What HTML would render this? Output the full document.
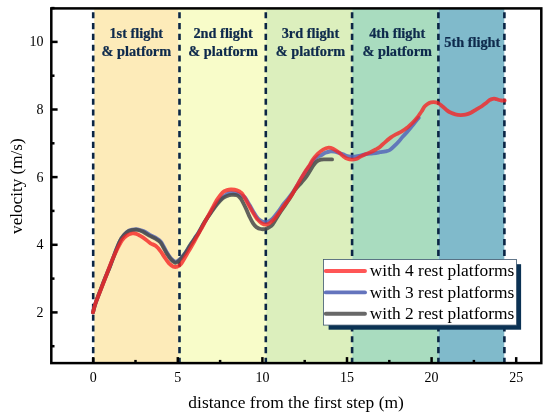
<!DOCTYPE html>
<html><head><meta charset="utf-8"><title>velocity vs distance</title>
<style>
html,body{margin:0;padding:0;background:#fff;}
svg{display:block;}
text{font-family:"Liberation Serif","Times New Roman",serif;fill:#000;}
.tk{font-size:14px;}
.ax{font-size:17.3px;}
.lg{font-size:17.4px;}
.hd{font-size:15px;font-weight:bold;fill:#0e2a4c;stroke:#0e2a4c;stroke-width:0.25px;text-anchor:middle;}
</style></head><body>
<svg width="550" height="416" viewBox="0 0 550 416">
<rect width="550" height="416" fill="#fff"/>
<rect x="94.2" y="8.4" width="84.4" height="354.70000000000005" fill="#FDEBB9"/>
<rect x="178.6" y="8.4" width="87.6" height="354.70000000000005" fill="#F8FCC9"/>
<rect x="266.2" y="8.4" width="86.1" height="354.70000000000005" fill="#DCEFBD"/>
<rect x="352.3" y="8.4" width="86.2" height="354.70000000000005" fill="#A9DCBF"/>
<rect x="438.5" y="8.4" width="65.8" height="354.70000000000005" fill="#80BACB"/>
<line x1="93.2" y1="12.25" x2="93.2" y2="363.1" stroke="#0b2545" stroke-width="2.6" stroke-dasharray="6.1 4.7"/>
<line x1="179.5" y1="12.25" x2="179.5" y2="363.1" stroke="#0b2545" stroke-width="2.6" stroke-dasharray="6.1 4.7"/>
<line x1="265.8" y1="12.25" x2="265.8" y2="363.1" stroke="#0b2545" stroke-width="2.6" stroke-dasharray="6.1 4.7"/>
<line x1="352.1" y1="12.25" x2="352.1" y2="363.1" stroke="#0b2545" stroke-width="2.6" stroke-dasharray="6.1 4.7"/>
<line x1="438.4" y1="12.25" x2="438.4" y2="363.1" stroke="#0b2545" stroke-width="2.6" stroke-dasharray="6.1 4.7"/>
<line x1="504.4" y1="12.25" x2="504.4" y2="363.1" stroke="#0b2545" stroke-width="2.6" stroke-dasharray="6.1 4.7"/>
<text class="hd" transform="translate(136.3,38.3) scale(0.955,1)">1st flight</text>
<text class="hd" transform="translate(136.3,56.1) scale(0.955,1)">&amp; platform</text>
<text class="hd" transform="translate(223.1,38.3) scale(0.955,1)">2nd flight</text>
<text class="hd" transform="translate(223.1,56.1) scale(0.955,1)">&amp; platform</text>
<text class="hd" transform="translate(310.5,38.3) scale(0.955,1)">3rd flight</text>
<text class="hd" transform="translate(310.5,56.1) scale(0.955,1)">&amp; platform</text>
<text class="hd" transform="translate(397.2,38.3) scale(0.955,1)">4th flight</text>
<text class="hd" transform="translate(397.2,56.1) scale(0.955,1)">&amp; platform</text>
<text class="hd" transform="translate(472.3,47.2) scale(0.955,1)">5th flight</text>
<path d="M93.0,312.4C93.5,310.7 94.1,307.3 95.9,302.2C97.7,297.1 101.4,287.6 103.7,281.6C106.0,275.6 108.4,270.3 110.0,266.2C111.6,262.1 112.2,260.3 113.4,257.1C114.6,253.9 116.0,250.1 117.3,247.0C118.6,243.9 119.8,240.8 121.4,238.3C123.0,235.8 125.1,233.3 126.9,231.9C128.7,230.5 130.6,230.1 132.4,229.7C134.2,229.3 136.0,229.1 137.8,229.3C139.6,229.5 141.2,230.1 143.4,231.1C145.6,232.1 148.8,234.3 150.9,235.5C153.1,236.7 154.7,237.2 156.3,238.2C157.9,239.2 159.4,240.1 160.7,241.5C162.0,242.9 162.8,245.0 163.9,246.9C165.0,248.8 165.9,250.9 167.2,252.9C168.4,254.9 170.1,257.4 171.4,258.9C172.7,260.3 173.9,261.3 175.0,261.6C176.1,261.9 176.7,261.4 177.7,260.8C178.7,260.2 179.9,259.2 181.2,257.8C182.5,256.4 184.1,254.4 185.6,252.3C187.1,250.2 188.5,247.5 190.0,245.2C191.5,242.9 193.0,240.9 194.4,238.7C195.8,236.5 197.0,234.9 198.7,232.2C200.4,229.5 202.3,226.1 204.5,222.5C206.7,218.9 209.7,213.8 211.8,210.5C213.9,207.2 215.5,204.7 217.3,202.5C219.1,200.3 221.1,198.6 222.7,197.2C224.3,195.8 225.6,194.6 227.1,193.9C228.6,193.2 229.8,193.0 231.4,193.0C233.0,193.0 235.4,193.3 236.9,193.7C238.4,194.1 239.3,194.5 240.7,195.2C242.0,195.8 243.6,196.0 245.0,197.6C246.4,199.2 247.9,202.1 249.3,204.5C250.8,206.9 252.2,210.0 253.7,212.3C255.1,214.7 256.6,217.1 258.0,218.6C259.4,220.1 260.9,220.9 262.2,221.5C263.5,222.1 264.5,222.2 265.6,222.2C266.7,222.2 267.4,222.2 268.6,221.5C269.8,220.8 271.3,219.9 272.9,218.2C274.5,216.5 276.6,213.8 278.4,211.4C280.2,209.0 282.0,206.1 283.8,203.7C285.6,201.3 287.6,199.3 289.2,197.2C290.8,195.1 291.9,193.7 293.5,191.3C295.1,188.9 297.0,185.7 298.8,182.8C300.6,179.9 302.4,176.6 304.2,173.8C306.0,171.0 308.1,168.0 309.7,165.8C311.2,163.6 312.2,162.0 313.5,160.5C314.8,159.0 316.2,157.7 317.5,156.8C318.8,155.9 319.7,156.0 321.0,155.3C322.3,154.6 323.9,153.4 325.3,152.8C326.8,152.2 328.2,151.7 329.7,151.5C331.2,151.3 332.9,151.5 334.4,151.7C335.9,151.9 337.2,152.4 338.7,152.8C340.1,153.2 341.7,153.9 343.1,154.4C344.6,154.9 345.9,155.7 347.4,156.1C348.8,156.5 350.3,156.5 351.8,156.6C353.3,156.7 354.8,156.6 356.2,156.4C357.6,156.2 359.1,155.8 360.5,155.5C361.9,155.2 363.2,154.7 364.9,154.4C366.5,154.1 368.6,153.8 370.4,153.6C372.2,153.4 374.2,153.3 375.8,153.1C377.4,152.9 378.4,152.5 380.0,152.2C381.6,151.9 383.9,151.8 385.5,151.4C387.1,151.0 388.4,150.9 389.8,150.0C391.2,149.1 392.8,147.6 394.2,146.2C395.6,144.8 397.1,143.4 398.5,141.8C399.9,140.2 401.4,138.3 402.9,136.6C404.4,134.9 405.9,133.4 407.3,131.7C408.8,130.0 410.2,128.4 411.6,126.6C413.1,124.8 414.8,122.5 416.0,121.0C417.2,119.5 418.2,118.3 418.7,117.8" fill="none" stroke="#5566b8" stroke-opacity="0.85" stroke-width="3.8" stroke-linecap="round" stroke-linejoin="round"/>
<path d="M93.0,312.4C93.5,310.7 94.1,307.3 95.9,302.2C97.7,297.1 101.4,287.8 103.7,281.8C106.0,275.9 108.4,270.6 110.0,266.5C111.6,262.4 112.2,260.7 113.4,257.5C114.6,254.3 115.9,250.6 117.2,247.5C118.5,244.4 119.6,241.3 121.2,238.8C122.8,236.3 124.8,233.8 126.6,232.4C128.4,231.0 130.3,230.6 132.1,230.2C133.9,229.8 135.7,229.6 137.5,229.9C139.3,230.2 140.8,230.8 143.0,231.8C145.2,232.9 148.3,235.0 150.5,236.2C152.7,237.4 154.3,237.9 155.9,238.9C157.5,239.9 159.0,240.8 160.3,242.2C161.6,243.6 162.4,245.7 163.5,247.6C164.6,249.5 165.5,251.6 166.8,253.6C168.1,255.6 169.8,258.1 171.2,259.6C172.6,261.1 173.9,262.3 175.0,262.7C176.1,263.1 176.7,262.5 177.7,261.8C178.7,261.1 179.8,260.1 181.2,258.5C182.5,256.9 184.3,254.7 185.8,252.5C187.3,250.3 188.7,247.7 190.2,245.4C191.7,243.1 193.1,241.1 194.6,238.9C196.1,236.7 197.2,235.2 198.9,232.4C200.6,229.6 202.3,225.5 204.5,222.0C206.7,218.5 209.7,214.5 211.8,211.5C213.9,208.5 215.5,206.2 217.3,204.0C219.1,201.8 221.1,199.7 222.7,198.3C224.3,197.0 225.6,196.5 227.1,195.9C228.6,195.3 229.8,194.9 231.4,194.8C233.0,194.7 235.4,194.6 236.9,195.2C238.4,195.8 239.4,197.0 240.5,198.3C241.6,199.6 242.3,201.2 243.3,203.1C244.3,205.0 245.4,207.2 246.5,209.6C247.6,212.0 248.7,215.0 249.8,217.3C250.9,219.6 252.0,221.7 253.1,223.3C254.2,224.9 255.1,226.2 256.4,227.1C257.7,228.0 259.2,228.7 260.7,229.0C262.1,229.3 263.7,229.3 265.1,229.0C266.6,228.7 268.1,227.9 269.4,227.1C270.7,226.3 271.0,226.7 272.7,224.3C274.4,221.9 277.7,216.1 279.8,212.9C281.9,209.7 283.5,207.8 285.2,205.2C286.9,202.6 288.7,199.9 290.2,197.6C291.7,195.3 292.9,193.1 294.0,191.5C295.1,189.9 295.2,189.4 296.5,187.9C297.8,186.4 300.0,184.2 301.6,182.4C303.2,180.6 304.7,179.0 306.2,176.9C307.7,174.8 309.6,171.6 310.8,169.6C312.0,167.6 312.6,166.3 313.6,165.0C314.6,163.7 315.6,162.4 316.8,161.5C318.0,160.6 319.4,159.9 321.0,159.6C322.6,159.2 324.5,159.4 326.4,159.4C328.2,159.4 331.2,159.4 332.1,159.4" fill="none" stroke="#4c4c4c" stroke-opacity="0.88" stroke-width="3.8" stroke-linecap="round" stroke-linejoin="round"/>
<path d="M93.0,312.4C93.5,310.7 94.1,307.3 95.9,302.2C97.7,297.1 101.5,288.1 103.9,281.8C106.3,275.5 108.7,268.8 110.4,264.5C112.1,260.2 112.7,258.9 114.0,256.0C115.3,253.1 116.8,249.8 118.2,247.1C119.6,244.4 120.8,241.9 122.2,240.0C123.6,238.1 125.1,236.7 126.7,235.6C128.3,234.5 130.5,233.8 132.1,233.5C133.7,233.2 134.9,233.4 136.4,233.8C137.9,234.2 139.2,235.2 140.8,236.2C142.5,237.2 144.7,238.8 146.3,240.0C147.9,241.2 148.9,242.3 150.5,243.3C152.1,244.3 154.3,244.7 155.9,246.0C157.5,247.3 158.9,249.0 160.3,250.9C161.8,252.8 163.2,255.3 164.6,257.4C166.0,259.5 167.5,261.8 169.0,263.4C170.5,264.9 172.0,266.1 173.4,266.7C174.8,267.2 175.9,267.1 177.2,266.7C178.5,266.2 179.8,265.4 181.0,264.0C182.2,262.6 183.4,260.2 184.7,258.0C186.0,255.8 187.3,253.7 188.9,250.9C190.5,248.2 192.6,244.5 194.3,241.5C196.0,238.5 197.7,235.2 199.0,232.8C200.3,230.4 201.0,229.6 202.2,227.3C203.4,225.0 204.8,222.2 206.4,219.2C208.0,216.2 210.0,212.5 211.8,209.2C213.6,205.9 215.5,202.2 217.3,199.4C219.1,196.6 221.1,193.9 222.7,192.3C224.3,190.8 225.6,190.6 227.1,190.1C228.6,189.6 229.8,189.4 231.4,189.5C233.0,189.6 235.2,189.8 236.9,190.4C238.6,191.0 240.1,191.7 241.3,192.8C242.6,193.9 243.2,195.2 244.4,197.2C245.6,199.2 247.2,202.4 248.7,205.0C250.1,207.6 251.7,210.5 253.1,212.9C254.5,215.3 255.9,217.7 257.4,219.4C258.8,221.1 260.4,222.4 261.8,223.3C263.2,224.2 264.3,224.7 265.6,224.7C266.9,224.7 268.0,224.2 269.4,223.3C270.8,222.4 272.1,221.2 273.8,219.4C275.5,217.6 277.5,214.9 279.3,212.4C281.1,209.9 283.1,206.8 284.7,204.7C286.3,202.5 287.3,201.6 288.7,199.5C290.1,197.4 291.6,195.2 293.3,192.4C295.0,189.6 297.0,185.6 298.8,182.4C300.6,179.2 302.4,176.1 304.2,173.2C306.0,170.3 308.3,167.1 309.7,165.0C311.1,162.9 311.0,162.2 312.3,160.4C313.6,158.6 315.9,155.7 317.7,153.9C319.5,152.1 321.4,150.6 323.2,149.5C325.0,148.4 327.0,147.7 328.6,147.6C330.2,147.5 331.3,147.9 333.0,148.7C334.7,149.5 337.0,151.1 338.7,152.3C340.4,153.5 341.7,155.0 343.1,156.1C344.6,157.2 345.9,158.2 347.4,158.8C348.8,159.4 350.3,159.7 351.8,159.7C353.3,159.7 354.8,159.5 356.2,159.0C357.6,158.5 359.1,157.4 360.5,156.6C361.9,155.8 363.2,155.1 364.9,154.4C366.5,153.7 368.6,153.1 370.4,152.3C372.2,151.5 374.2,150.4 375.8,149.5C377.4,148.6 378.6,148.0 380.2,146.7C381.8,145.4 383.7,143.4 385.5,141.8C387.3,140.2 389.1,138.7 390.9,137.4C392.7,136.1 394.6,135.2 396.4,134.2C398.2,133.2 400.0,132.5 401.8,131.4C403.6,130.3 405.5,129.0 407.3,127.6C409.1,126.1 411.1,124.3 412.7,122.7C414.3,121.1 415.6,119.7 417.1,117.8C418.6,115.9 420.2,113.4 421.5,111.5C422.8,109.6 423.5,107.7 424.8,106.3C426.1,104.9 427.8,103.7 429.2,103.0C430.6,102.3 432.1,102.2 433.5,102.2C434.9,102.2 436.4,102.3 437.9,103.0C439.4,103.7 440.9,105.1 442.3,106.3C443.8,107.5 445.2,109.0 446.6,110.1C448.1,111.2 449.5,112.1 451.0,112.8C452.5,113.5 453.8,114.0 455.4,114.4C457.0,114.8 459.1,115.0 460.8,115.1C462.5,115.1 463.8,115.1 465.5,114.7C467.2,114.3 469.1,113.6 470.9,112.7C472.7,111.8 474.6,110.5 476.4,109.4C478.2,108.3 480.2,107.3 481.8,106.2C483.4,105.1 484.9,103.9 486.2,102.9C487.5,101.9 488.3,100.9 489.4,100.2C490.5,99.5 491.7,99.0 492.7,98.8C493.7,98.6 494.5,98.6 495.4,98.8C496.3,99.0 497.2,99.5 498.2,99.8C499.2,100.1 500.3,100.4 501.4,100.5C502.5,100.6 504.1,100.5 504.7,100.5" fill="none" stroke="#f52626" stroke-opacity="0.8" stroke-width="3.8" stroke-linecap="round" stroke-linejoin="round"/>
<rect x="51.3" y="8.4" width="489.99999999999994" height="354.70000000000005" fill="none" stroke="#000" stroke-width="2.5"/>
<line x1="93.2" y1="363.1" x2="93.2" y2="357.1" stroke="#000" stroke-width="2.5"/>
<text class="tk" text-anchor="middle" x="93.2" y="381.9">0</text>
<line x1="177.8" y1="363.1" x2="177.8" y2="357.1" stroke="#000" stroke-width="2.5"/>
<text class="tk" text-anchor="middle" x="177.8" y="381.9">5</text>
<line x1="262.4" y1="363.1" x2="262.4" y2="357.1" stroke="#000" stroke-width="2.5"/>
<text class="tk" text-anchor="middle" x="262.4" y="381.9">10</text>
<line x1="347.0" y1="363.1" x2="347.0" y2="357.1" stroke="#000" stroke-width="2.5"/>
<text class="tk" text-anchor="middle" x="347.0" y="381.9">15</text>
<line x1="431.6" y1="363.1" x2="431.6" y2="357.1" stroke="#000" stroke-width="2.5"/>
<text class="tk" text-anchor="middle" x="431.6" y="381.9">20</text>
<line x1="516.2" y1="363.1" x2="516.2" y2="357.1" stroke="#000" stroke-width="2.5"/>
<text class="tk" text-anchor="middle" x="516.2" y="381.9">25</text>
<line x1="135.5" y1="363.1" x2="135.5" y2="359.90000000000003" stroke="#000" stroke-width="2.5"/>
<line x1="220.1" y1="363.1" x2="220.1" y2="359.90000000000003" stroke="#000" stroke-width="2.5"/>
<line x1="304.7" y1="363.1" x2="304.7" y2="359.90000000000003" stroke="#000" stroke-width="2.5"/>
<line x1="389.3" y1="363.1" x2="389.3" y2="359.90000000000003" stroke="#000" stroke-width="2.5"/>
<line x1="473.9" y1="363.1" x2="473.9" y2="359.90000000000003" stroke="#000" stroke-width="2.5"/>
<line x1="51.3" y1="312.4" x2="57.599999999999994" y2="312.4" stroke="#000" stroke-width="2.5"/>
<text class="tk" text-anchor="end" x="43.6" y="316.8">2</text>
<line x1="51.3" y1="244.8" x2="57.599999999999994" y2="244.8" stroke="#000" stroke-width="2.5"/>
<text class="tk" text-anchor="end" x="43.6" y="249.2">4</text>
<line x1="51.3" y1="177.1" x2="57.599999999999994" y2="177.1" stroke="#000" stroke-width="2.5"/>
<text class="tk" text-anchor="end" x="43.6" y="181.5">6</text>
<line x1="51.3" y1="109.5" x2="57.599999999999994" y2="109.5" stroke="#000" stroke-width="2.5"/>
<text class="tk" text-anchor="end" x="43.6" y="113.9">8</text>
<line x1="51.3" y1="41.9" x2="57.599999999999994" y2="41.9" stroke="#000" stroke-width="2.5"/>
<text class="tk" text-anchor="end" x="43.6" y="46.3">10</text>
<line x1="51.3" y1="346.2" x2="54.5" y2="346.2" stroke="#000" stroke-width="2.5"/>
<line x1="51.3" y1="278.6" x2="54.5" y2="278.6" stroke="#000" stroke-width="2.5"/>
<line x1="51.3" y1="210.9" x2="54.5" y2="210.9" stroke="#000" stroke-width="2.5"/>
<line x1="51.3" y1="143.3" x2="54.5" y2="143.3" stroke="#000" stroke-width="2.5"/>
<line x1="51.3" y1="75.7" x2="54.5" y2="75.7" stroke="#000" stroke-width="2.5"/>
<line x1="51.3" y1="8.1" x2="54.5" y2="8.1" stroke="#000" stroke-width="2.5"/>
<text class="ax" style="font-size:17.45px" text-anchor="middle" x="296.1" y="407.6">distance from the first step (m)</text>
<text class="ax" style="font-size:17.15px" text-anchor="middle" transform="translate(22.3,186.1) rotate(-90)">velocity (m/s)</text>
<rect x="328.6" y="264.2" width="192.5" height="65.5" fill="#0b3254"/>
<rect x="323.5" y="259.5" width="193" height="65.6" fill="#fff" stroke="#3d566e" stroke-width="0.8"/>
<line x1="325.8" y1="271.0" x2="365" y2="271.0" stroke="#ff5656" stroke-width="3.9" stroke-linecap="round"/>
<text class="lg" x="369.8" y="276.4">with 4 rest platforms</text>
<line x1="325.8" y1="292.4" x2="365" y2="292.4" stroke="#6474bd" stroke-width="3.9" stroke-linecap="round"/>
<text class="lg" x="369.8" y="297.8">with 3 rest platforms</text>
<line x1="325.8" y1="313.8" x2="365" y2="313.8" stroke="#686868" stroke-width="3.9" stroke-linecap="round"/>
<text class="lg" x="369.8" y="319.2">with 2 rest platforms</text>
</svg></body></html>
